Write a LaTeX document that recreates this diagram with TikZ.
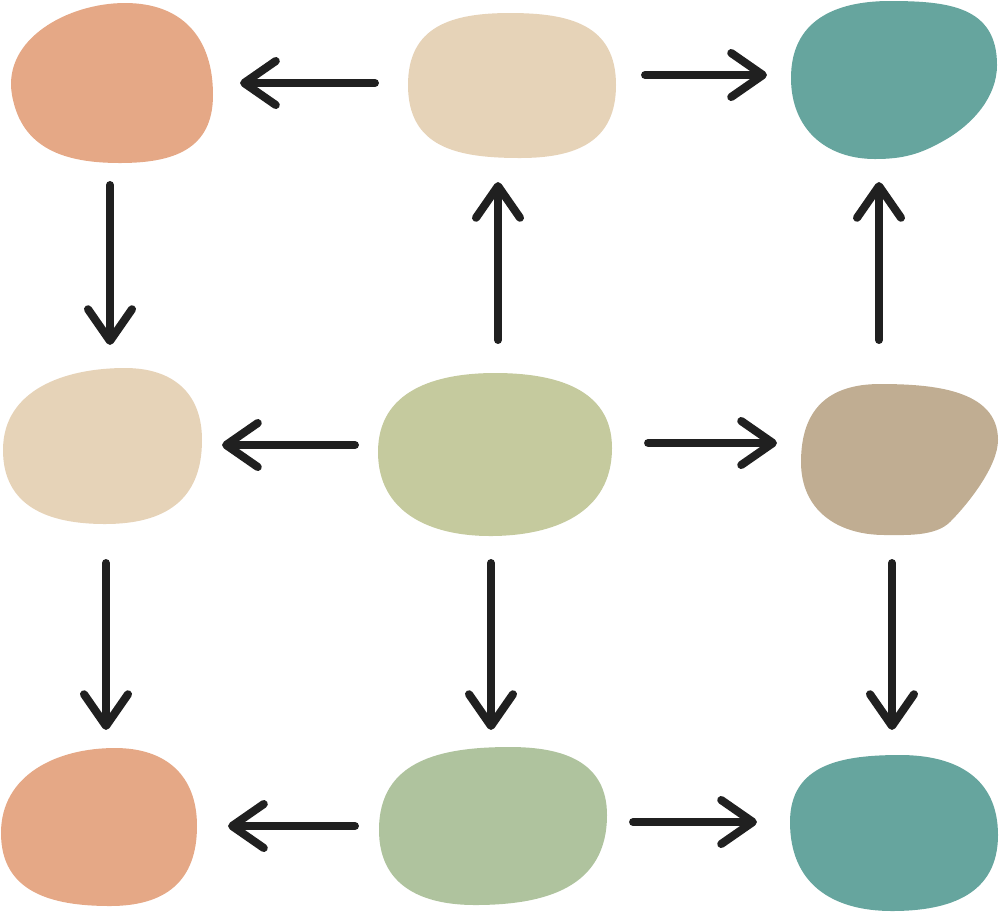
\documentclass[tikz,border=0pt]{standalone}
\usetikzlibrary{arrows.meta}
\definecolor{peach}{HTML}{E5A886}
\definecolor{sand}{HTML}{E6D3B8}
\definecolor{tealb}{HTML}{66A59E}
\definecolor{sage}{HTML}{C5CA9E}
\definecolor{taupe}{HTML}{C0AD92}
\definecolor{mint}{HTML}{AFC39E}
\definecolor{ink}{HTML}{202020}
\tikzset{
  blobnode/.style={inner sep=0pt, outer sep=0pt},
  arr/.style={draw=ink, line width=2.3pt, line cap=round, line join=round,
    -{Straight Barb[length=9pt,width=12.5pt,round]}}
}
% #1 colour, #2 top, #3 right, #4 bottom, #5 left, #6 looseness
\newcommand\myblob[6]{\fill[#1] (#2) to[out=0,in=90,looseness=#6] (#3)
  to[out=-90,in=0,looseness=#6] (#4) to[out=180,in=-90,looseness=#6] (#5)
  to[out=90,in=180,looseness=#6] (#2);}
\begin{document}
\begin{tikzpicture}[x=0.01cm,y=-0.01cm]
\useasboundingbox (0,0) rectangle (1000,911);
% nodes (blob extents)
\node[blobnode, minimum width=2.01cm, minimum height=1.61cm] (tl) at (112.5,82.5) {};
\node[blobnode, minimum width=2.08cm, minimum height=1.45cm] (tm) at (512,85.5) {};
\node[blobnode, minimum width=2.07cm, minimum height=1.60cm] (tr) at (893.5,80) {};
\node[blobnode, minimum width=2.00cm, minimum height=1.56cm] (ml) at (102,446) {};
\node[blobnode, minimum width=2.34cm, minimum height=1.63cm] (c) at (495,454.5) {};
\node[blobnode, minimum width=1.98cm, minimum height=1.52cm] (mr) at (899,459) {};
\node[blobnode, minimum width=1.97cm, minimum height=1.58cm] (bl) at (98.5,827) {};
\node[blobnode, minimum width=2.26cm, minimum height=1.58cm] (bm) at (493,826) {};
\node[blobnode, minimum width=2.08cm, minimum height=1.57cm] (br) at (894,832.5) {};
% blob shapes
\fill[peach] (125,3) to[out=0,in=90,looseness=1.15] (213,95) to[out=-90,in=0,looseness=1.2] (120,163)
  to[out=180,in=-80,looseness=1.1] (12,95) to[out=100,in=180,looseness=1.0] (125,3);
\myblob{sand}{510,13}{616,85}{520,158}{408,85}{1.2}
\fill[tealb] (890,1) to[out=0,in=90,looseness=1.2] (997,65) to[out=-90,in=30,looseness=0.9] (945,140)
  to[out=210,in=0,looseness=1] (875,159) to[out=180,in=-90,looseness=1.1] (791,78)
  to[out=90,in=180,looseness=1.15] (890,1);
\fill[sand] (125,368) to[out=0,in=90,looseness=1.15] (202,440) to[out=-90,in=0,looseness=1.2] (105,524)
  to[out=180,in=-90,looseness=1.15] (3,450) to[out=90,in=180,looseness=1.05] (125,368);
\myblob{sage}{495,373}{612,448}{490,536}{378,452}{1.1}
\fill[taupe] (880,384) to[out=0,in=90,looseness=1.0] (998,440) to[out=-90,in=45,looseness=0.7] (950,522)
  to[out=225,in=0,looseness=0.8] (885,535) to[out=180,in=-90,looseness=1.1] (801,462)
  to[out=90,in=180,looseness=1.2] (880,384);
\fill[peach] (115,748) to[out=0,in=90,looseness=1.15] (197,826) to[out=-90,in=0,looseness=1.2] (110,906)
  to[out=180,in=-90,looseness=1.15] (1,833) to[out=90,in=180,looseness=1.05] (115,748);
\myblob{mint}{510,747}{607,815}{475,905}{379,830}{1.15}
\myblob{tealb}{900,755}{998,835}{892,911}{790,822}{1.15}
% connectors
\draw[arr, shorten <=0.33cm, shorten >=0.27cm] (tm.west |- 0,83) -- (tl.east |- 0,83);
\draw[arr, shorten <=0.29cm, shorten >=0.23cm] (tm.east |- 0,75) -- (tr.west |- 0,75);
\draw[arr, shorten <=0.22cm, shorten >=0.23cm] (tl.south -| 110,0) -- (ml.north -| 110,0);
\draw[arr, shorten <=0.33cm, shorten >=0.24cm] (c.north -| 498,0) -- (tm.south -| 498,0);
\draw[arr, shorten <=0.43cm, shorten >=0.22cm] (mr.north -| 879,0) -- (tr.south -| 879,0);
\draw[arr, shorten <=0.23cm, shorten >=0.20cm] (c.west |- 0,445) -- (ml.east |- 0,445);
\draw[arr, shorten <=0.36cm, shorten >=0.23cm] (c.east |- 0,443) -- (mr.west |- 0,443);
\draw[arr, shorten <=0.39cm, shorten >=0.18cm] (ml.south -| 106,0) -- (bl.north -| 106,0);
\draw[arr, shorten <=0.27cm, shorten >=0.17cm] (c.south -| 491,0) -- (bm.north -| 491,0);
\draw[arr, shorten <=0.28cm, shorten >=0.24cm] (mr.south -| 892,0) -- (br.north -| 892,0);
\draw[arr, shorten <=0.25cm, shorten >=0.31cm] (bm.west |- 0,826) -- (bl.east |- 0,826);
\draw[arr, shorten <=0.27cm, shorten >=0.33cm] (bm.east |- 0,822) -- (br.west |- 0,822);
\end{tikzpicture}
\end{document}
